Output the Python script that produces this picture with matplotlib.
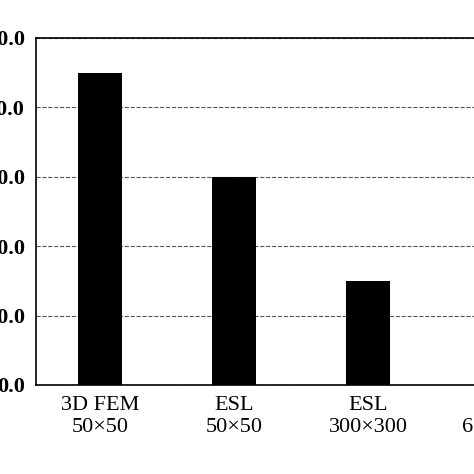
import matplotlib
matplotlib.use("Agg")
import matplotlib.pyplot as plt

categories = ["3D FEM\n50×50", "ESL\n50×50", "ESL\n300×300", "ESL\n600×600"]
values = [45.0, 30.0, 15.0, 10.0]
yticks = [0, 10, 20, 30, 40, 50]

plt.rcParams['font.family'] = ['Liberation Serif', 'DejaVu Serif']
fig = plt.figure(figsize=(4.74, 4.74), dpi=100)
W, H = 474, 474
ax = fig.add_axes([36/W, (H-385)/H, 533/W, 347/H])
x = list(range(len(categories)))
ax.bar(x, values, width=0.33, color='black', zorder=3)
ax.set_xlim(-0.478, 3.5)
ax.set_ylim(0, 50)
ax.set_yticks(yticks)
ax.set_yticklabels([f"{v:.1f}" for v in yticks], fontsize=16, fontweight='bold')
ax.set_xticks(x)
ax.set_xticklabels(categories, fontsize=16)
ax.yaxis.grid(True, linestyle='--', color='#555555', linewidth=0.8, zorder=0)
ax.tick_params(length=0, pad=8)
for s in ax.spines.values():
    s.set_linewidth(1.2)
fig.savefig("out.png", dpi=100)
